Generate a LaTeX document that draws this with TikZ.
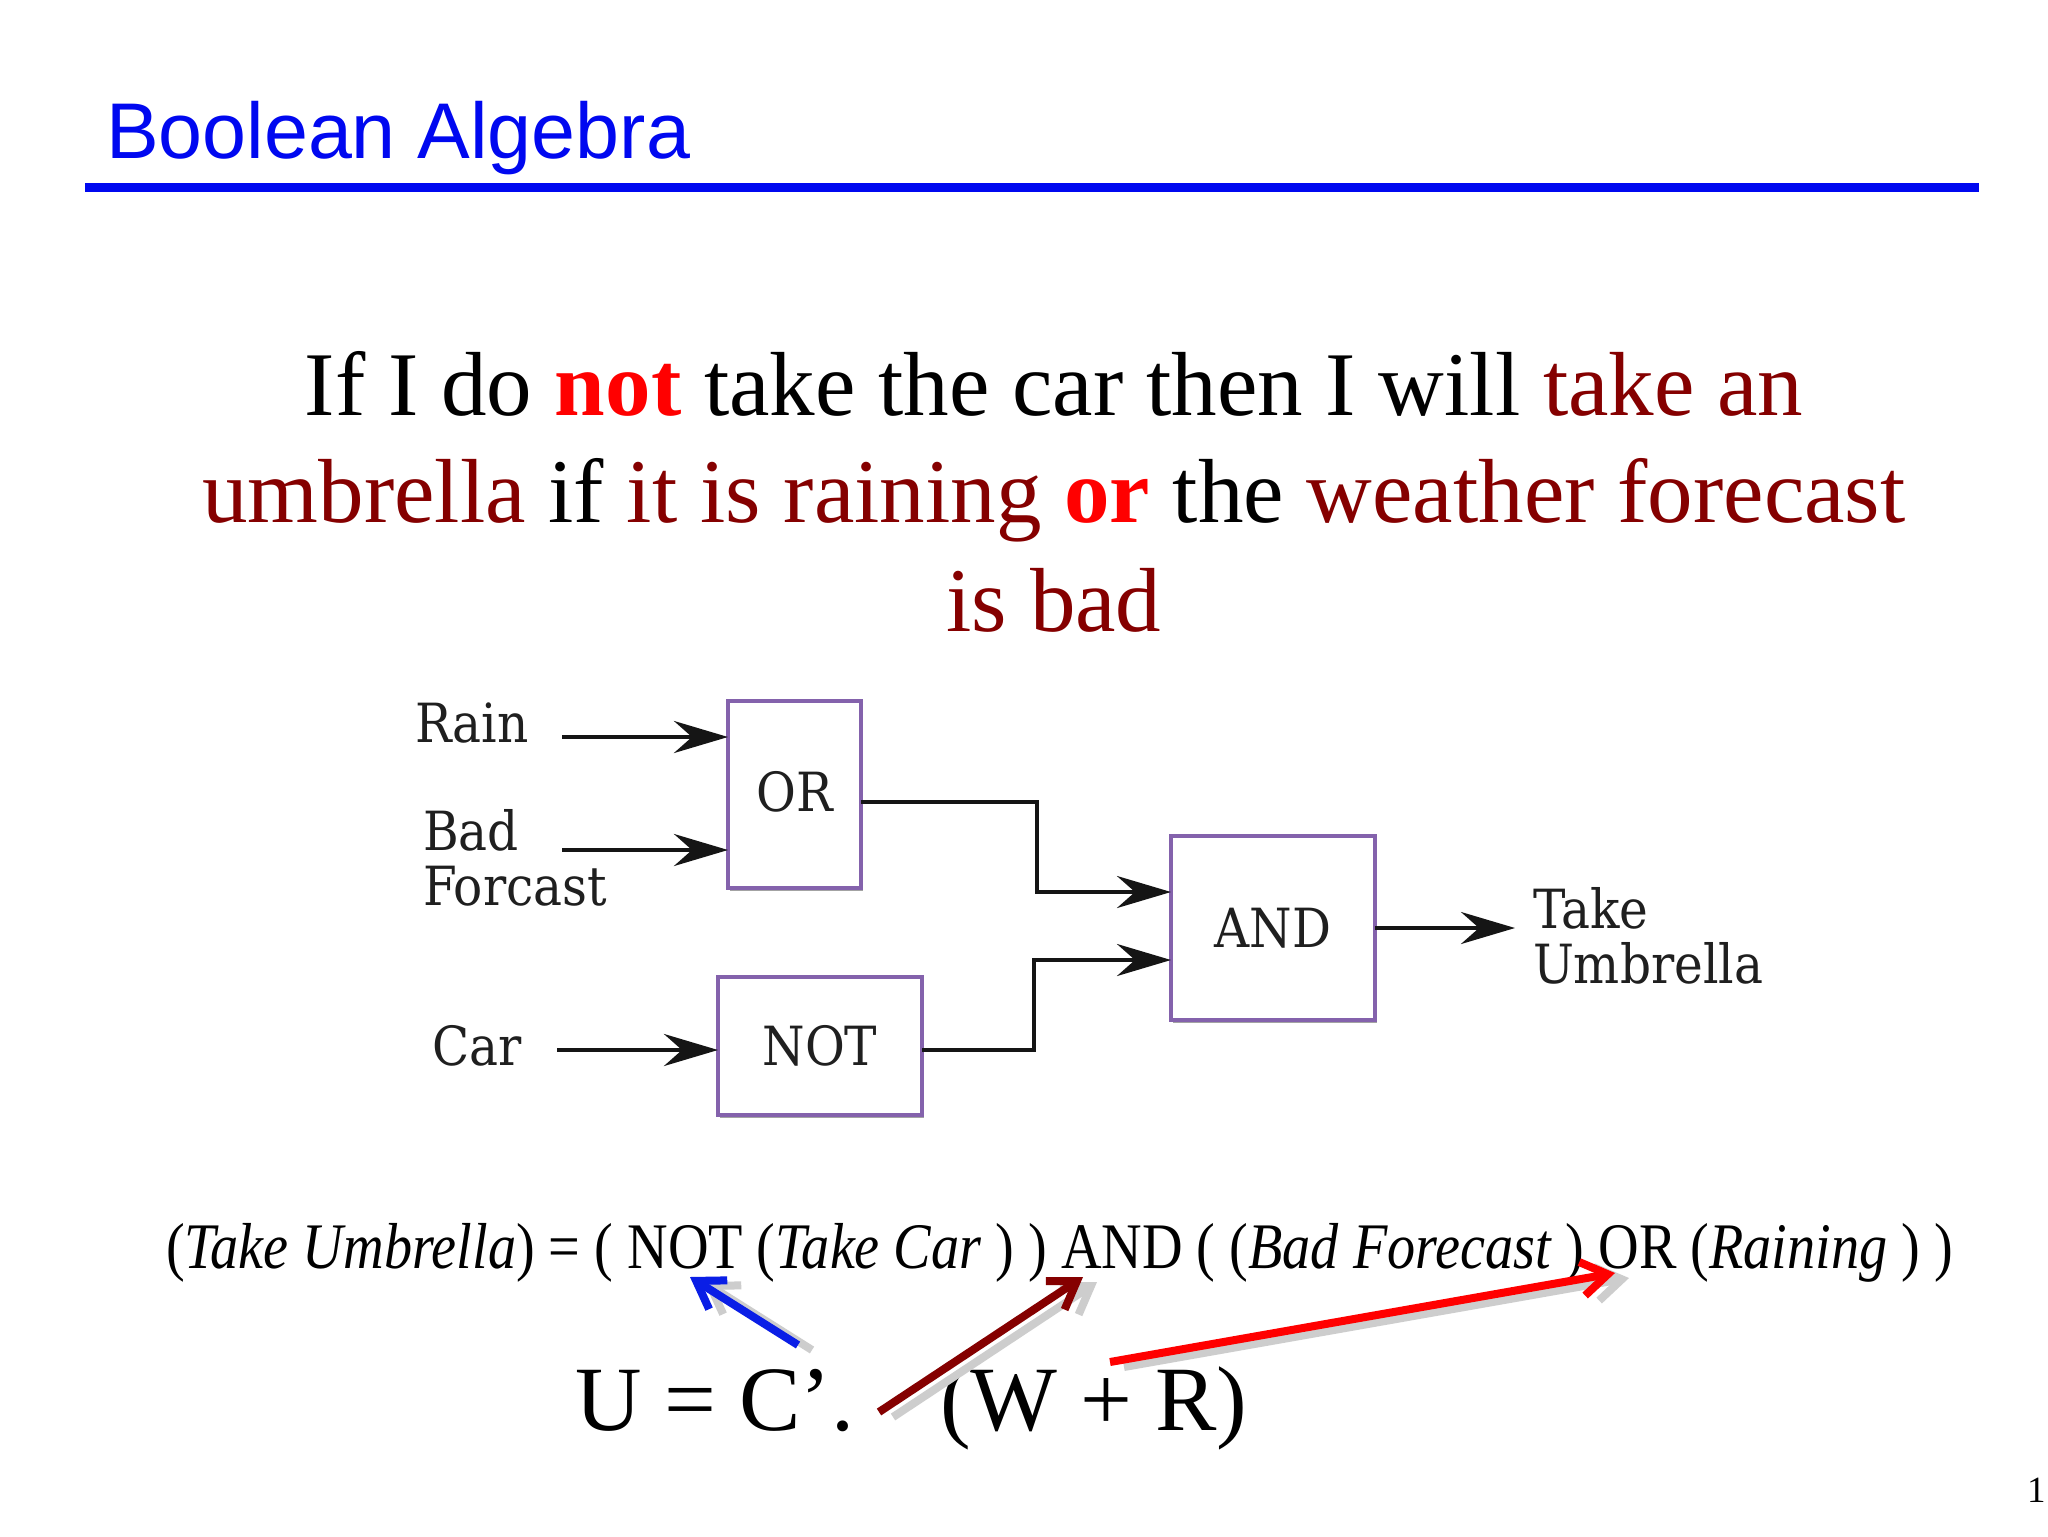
\documentclass[tikz,border=0pt]{standalone}
\usepackage{fontspec}
\usepackage{graphicx}
\newfontfamily\tnr{Liberation Serif}
\newfontfamily\arial{Liberation Sans}
\newfontfamily\slab{DejaVu Serif Condensed}
\usetikzlibrary{arrows.meta,calc,shadows}
\definecolor{titleblue}{HTML}{0008F0}
\definecolor{darkred}{HTML}{850000}
\definecolor{brightred}{HTML}{FF0000}
\definecolor{gatepurple}{HTML}{8462AC}
\definecolor{wiregray}{HTML}{151515}
\definecolor{shadowgray}{HTML}{CDCDCD}
\definecolor{arrowblue}{HTML}{0A1EE6}
\begin{document}
\begin{tikzpicture}[x=0.5pt,y=-0.5pt,
  every node/.style={inner sep=0pt,outer sep=0pt},
  sentence/.style={font=\tnr\fontsize{45.5pt}{50pt}\selectfont,anchor=base},
  lbl/.style={font=\slab\fontsize{27pt}{30pt}\selectfont,text=black!88,anchor=base west},
  gatebox/.style={draw=gatepurple,line width=1.8pt,fill=white,text=black!88,
    font=\slab\fontsize{27pt}{30pt}\selectfont,
    drop shadow={shadow xshift=1.2pt,shadow yshift=-1.5pt,fill=black!45,opacity=0.8}},
  wire/.style={draw=wiregray,line width=2pt,-{Stealth[length=27pt,width=16pt,inset=9pt]}},
  pointer/.style={line width=4pt,-{Straight Barb[length=13pt,width=17pt]}},
  pshadow/.style={pointer,draw=shadowgray,transform canvas={shift={(7pt,-2.5pt)}}},
  bigtext/.style={font=\tnr\fontsize{46pt}{50pt}\selectfont,anchor=base west}
]
\useasboundingbox (0,0) rectangle (2048,1536);
\fill[white] (0,0) rectangle (2048,1536);

% title
\node[font=\arial\fontsize{39.5pt}{44pt}\selectfont,text=titleblue,anchor=base west] (title) at (106,158) {Boolean Algebra};
\draw[titleblue,line width=4.5pt] (85,187.5) -- (1979,187.5);

% sentence
\node[sentence] (s1) at (1054,415) {If I do \textbf{\color{brightred}not} take the car then I will {\color{darkred}take an}};
\node[sentence] (s2) at (1054,522) {{\color{darkred}umbrella} if {\color{darkred}it is raining} \textbf{\color{brightred}or} the {\color{darkred}weather forecast}};
\node[sentence,text=darkred] (s3) at (1054,631) {is bad};

% gates
\node[gatebox,minimum width=66.5pt,minimum height=93.5pt] (orb) at (794.5,794.5) {\raisebox{3.5pt}{OR}};
\node[gatebox,minimum width=102pt,minimum height=92pt] (andb) at (1273,928) {AND};
\node[gatebox,minimum width=102pt,minimum height=69pt] (notb) at (820,1046) {\raisebox{1pt}{NOT}};

% labels
\node[lbl] (rain) at (415,742) {Rain};
\node[lbl] (bad) at (423,850) {Bad};
\node[lbl] (forcast) at (423,905) {Forcast};
\node[lbl] (car) at (432,1065) {Car};
\node[lbl] (take) at (1533,928) {Take};
\node[lbl] (umb) at (1533,983) {Umbrella};

% wires
\coordinate (rainout) at (562,737);
\coordinate (badout) at (562,850);
\coordinate (carout) at (557,1050);
\coordinate (andin1) at ([yshift=18pt]andb.west);
\coordinate (andin2) at ([yshift=-16pt]andb.west);
\coordinate (takein) at (1515,928);
\draw[wire] (rainout) -- (rainout -| orb.west);
\draw[wire] (badout) -- (badout -| orb.west);
\draw[wire] (carout) -- (carout -| notb.west);
\draw[wire] ([yshift=-3.5pt]orb.east) -| ($(andin1)+(-134,0)$) -- (andin1);
\draw[wire] ([yshift=-2pt]notb.east) -| ($(andin2)+(-137,0)$) -- (andin2);
\draw[wire] (andb.east) -- (takein);

% equation
\node[anchor=base west,font=\tnr\fontsize{32.5pt}{34pt}\selectfont] (eq) at (166,1268)
  {\resizebox{893.5pt}{\height}{(\textit{Take Umbrella}) = ( NOT (\textit{Take Car} ) ) AND ( (\textit{Bad Forecast} ) OR (\textit{Raining} ) )}};

\node[bigtext] (uc) at (575,1430) {U = C’.};
\node[bigtext] (wr) at (940,1430) {(W + R)};

% pointers
\coordinate (bT) at (798,1345); \coordinate (bH) at (690,1277);
\coordinate (dT) at (879,1412); \coordinate (dH) at (1083,1277);
\coordinate (rT) at (1110,1362); \coordinate (rH) at (1615,1273);
\draw[pshadow] (bT) -- (bH);
\draw[pshadow] (dT) -- (dH);
\draw[pshadow] (rT) -- (rH);
\draw[pointer,draw=arrowblue] (bT) -- (bH);
\draw[pointer,draw=darkred] (dT) -- (dH);
\draw[pointer,draw=brightred] (rT) -- (rH);

% page number
\node[anchor=base west,font=\tnr\fontsize{18.5pt}{20pt}\selectfont] (pg) at (2027,1502) {1};
\end{tikzpicture}
\end{document}
